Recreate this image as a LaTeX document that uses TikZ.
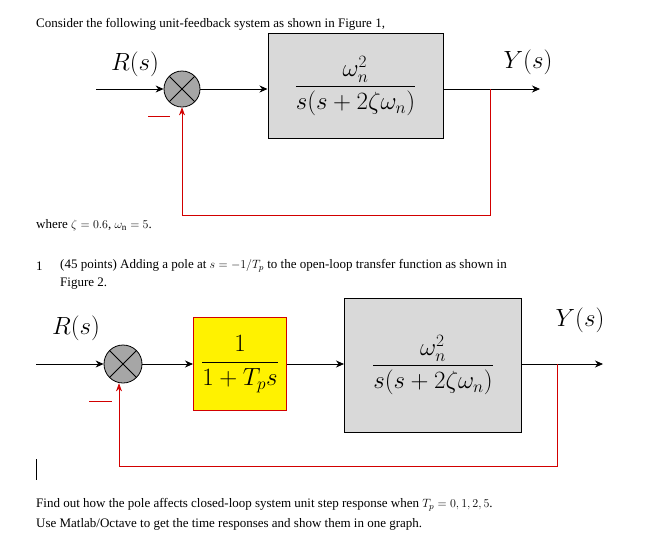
\documentclass[tikz,border=0pt]{standalone}
\usepackage{fontspec}
\setmainfont{Liberation Serif}
\usetikzlibrary{arrows.meta}
\definecolor{fbred}{RGB}{210,0,0}
\begin{document}
\begin{tikzpicture}[x=1pt,y=-1pt,
  txt/.style={anchor=west,inner sep=0pt,font=\fontsize{13}{15}\selectfont},
  sig/.style={line width=0.8pt,-{Stealth[length=8pt,width=7pt]}},
  fb/.style={draw=fbred,line width=0.6pt},
  sumj/.style={circle,draw,fill=gray!70,minimum size=36pt,inner sep=0pt,line width=0.8pt,path picture={\draw (path picture bounding box.north west)--(path picture bounding box.south east) (path picture bounding box.north east)--(path picture bounding box.south west);}},
  gbox/.style={draw,line width=1pt,fill=gray!30,inner sep=0pt,font=\fontsize{24}{28}\selectfont},
  ybox/.style={draw=fbred,line width=1pt,fill=yellow,inner sep=0pt,font=\fontsize{24}{28}\selectfont},
  big/.style={font=\fontsize{24}{26}\selectfont},
  minus/.style={draw=fbred,line width=1pt}]
\useasboundingbox (0,0) rectangle (656,542);
\fill[white] (0,0) rectangle (656,542);
% Figure 1
\node[txt] (t1) at (36,24) {Consider the following unit-feedback system as shown in Figure 1,};
\node[sumj] (s1) at (182,89) {};
\node[gbox,minimum width=175pt,minimum height=105pt] (g1) at (355.5,86) {$\displaystyle\frac{\omega_n^2}{s(s+2\zeta\omega_n)}$};
\node[big] (r1) at (135,64) {$R(s)$};
\node[big] (y1) at (528,62) {$Y(s)$};
\coordinate (in1) at (96,89);
\coordinate (out1) at (540,89);
\coordinate (tap1) at (490,89);
\coordinate (c1) at (490,215);
\coordinate (c2) at (182,215);
\draw[sig] (in1) -- (s1.west);
\draw[sig] (s1.east) -- (s1.east-|g1.west);
\draw[sig] (s1.east-|g1.east) -- (out1);
\draw[fb] (tap1) -- (c1) -- (c2);
\draw[fb,-{Stealth[length=8pt,width=6pt]}] (c2) -- (s1.south);
\coordinate (m1a) at (148,116); \coordinate (m1b) at (170,116);
\draw[minus] (m1a) -- (m1b);
\node[txt] (w1) at (36,225) {where $\zeta = 0.6$, $\omega_{\mathrm{n}} = 5$.};
% Figure 2
\node[txt] (n2) at (36,266) {1};
\node[txt] (t2) at (60,266) {(45 points) Adding a pole at $s=-1/T_p$ to the open-loop transfer function as shown in};
\node[txt] (t3) at (60,284) {Figure 2.};
\node[sumj,minimum size=38pt] (s2) at (123,364) {};
\node[ybox,minimum width=93pt,minimum height=93pt] (p2) at (240,364) {$\displaystyle\frac{1}{1+T_ps}$};
\node[gbox,minimum width=177pt,minimum height=134pt] (g2) at (433,365) {$\displaystyle\frac{\omega_n^2}{s(s+2\zeta\omega_n)}$};
\node[big] (r2) at (76,328) {$R(s)$};
\node[big] (y2) at (580,320) {$Y(s)$};
\coordinate (in2) at (36,364);
\coordinate (out2) at (603,364);
\coordinate (tap2) at (557,364);
\coordinate (d1) at (557,466);
\coordinate (d2) at (119,466);
\draw[sig] (in2) -- (s2.west);
\draw[sig] (s2.east) -- (p2.west);
\draw[sig] (p2.east) -- (p2.east-|g2.west);
\draw[sig] (p2.east-|g2.east) -- (out2);
\draw[fb] (tap2) -- (d1) -- (d2);
\draw[fb,-{Stealth[length=8pt,width=6pt]}] (d2) -- (d2|-s2.south);
\coordinate (m2a) at (89,401); \coordinate (m2b) at (112,401);
\draw[minus] (m2a) -- (m2b);
\coordinate (k1) at (36,459); \coordinate (k2) at (36,480);
\draw[line width=0.8pt] (k1) -- (k2);
\node[txt] (b1) at (36,505) {Find out how the pole affects closed-loop system unit step response when $T_p=0,1,2,5$.};
\node[txt] (b2) at (36,524) {Use Matlab/Octave to get the time responses and show them in one graph.};
\end{tikzpicture}
\end{document}
